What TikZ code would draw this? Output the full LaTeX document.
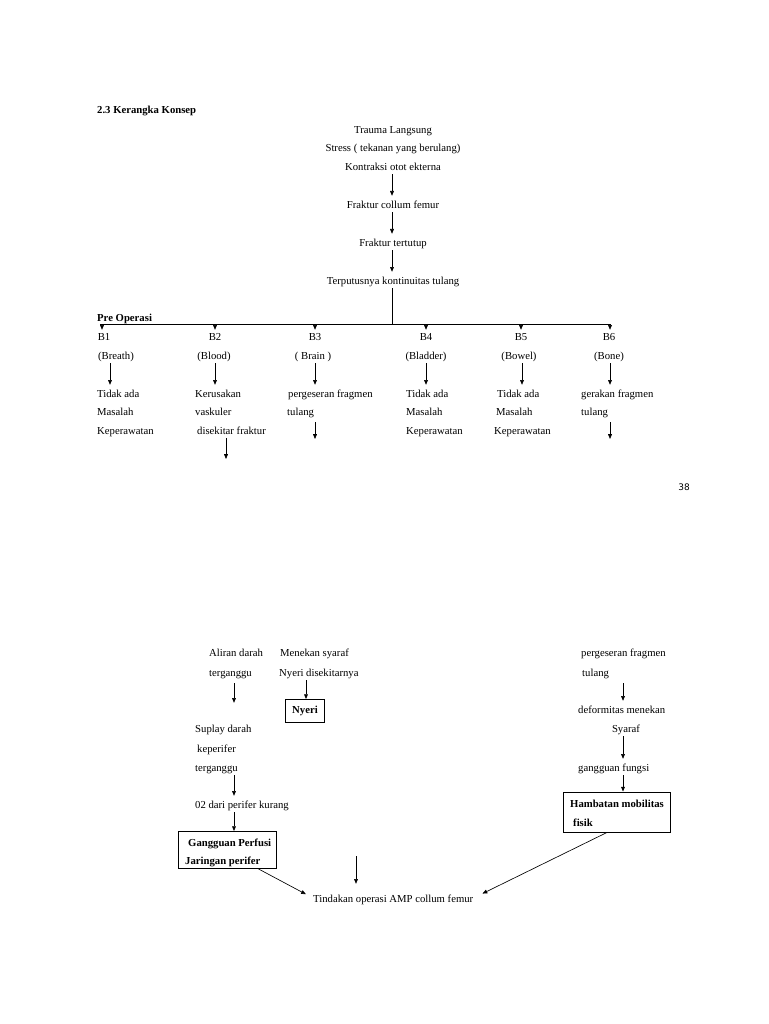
\documentclass[tikz,border=0pt]{standalone}
\usepackage{fontspec}
\setmainfont{Liberation Serif}
\newfontfamily\pagefont{DejaVu Sans}
\usetikzlibrary{arrows.meta}
\newcommand\fs{\fontsize{10.7}{12}\selectfont}
\begin{document}
\begin{tikzpicture}[x=1pt,y=-1pt,
  txt/.style={inner xsep=0pt, inner ysep=3pt, text height=9.5pt, text depth=0.5pt, font=\fs},
  lt/.style={txt, anchor=west},
  bt/.style={lt, font=\fs\bfseries},
  blab/.style={txt, inner ysep=1pt},
  arr/.style={-{Triangle[length=4.8pt,width=3.8pt]}, line width=0.65pt},
  ln/.style={line width=0.7pt},
  boxn/.style={draw, line width=0.9pt, inner sep=0pt}]
\fill[white] (0,0) rectangle (768,1024);
\useasboundingbox (0,0) rectangle (768,1024);
% title and main column
\node[bt] (title) at (97,109) {2.3 Kerangka Konsep};
\node[txt] (n1) at (393,129) {Trauma Langsung};
\node[txt] (n2) at (393,147) {Stress ( tekanan yang berulang)};
\node[txt] (n3) at (393,166) {Kontraksi otot ekterna};
\node[txt] (n4) at (393,204) {Fraktur collum femur};
\node[txt] (n5) at (393,242) {Fraktur tertutup};
\node[txt] (n6) at (393,280) {Terputusnya kontinuitas tulang};
\coordinate (cM) at (392,0);
\draw[arr] (n3.south -| cM) -- (n4.north -| cM);
\draw[arr] (n4.south -| cM) -- (n5.north -| cM);
\draw[arr] (n5.south -| cM) -- (n6.north -| cM);
\coordinate (j) at (392,324);
\draw[ln] (n6.south -| cM) -- (j);
\node[bt] (pre) at (97,317) {Pre Operasi};
\coordinate (hl) at (100,324);
\coordinate (hr) at (610,324);
\draw[ln] (hl) -- (hr);
% B labels
\node[blab] (b1) at (104,336) {B1};
\node[blab] (b2) at (215,336) {B2};
\node[blab] (b3) at (315,336) {B3};
\node[blab] (b4) at (426,336) {B4};
\node[blab] (b5) at (521,336) {B5};
\node[blab] (b6) at (609,336) {B6};
\coordinate (a1) at (102,324);
\coordinate (a2) at (215,324);
\coordinate (a3) at (315,324);
\coordinate (a4) at (426,324);
\coordinate (a5) at (521,324);
\coordinate (a6) at (610,324);
\draw[arr] (a1) -- (b1.north -| a1);
\draw[arr] (a2) -- (b2.north -| a2);
\draw[arr] (a3) -- (b3.north -| a3);
\draw[arr] (a4) -- (b4.north -| a4);
\draw[arr] (a5) -- (b5.north -| a5);
\draw[arr] (a6) -- (b6.north -| a6);
% parentheses row
\node[txt] (p1) at (116,355) {(Breath)};
\node[txt] (p2) at (214,355) {(Blood)};
\node[txt] (p3) at (313,355) {( Brain )};
\node[txt] (p4) at (426,355) {(Bladder)};
\node[txt] (p5) at (519,355) {(Bowel)};
\node[txt] (p6) at (609,355) {(Bone)};
\coordinate (k1) at (110,0);
\coordinate (k2) at (215,0);
\coordinate (k3) at (315,0);
\coordinate (k4) at (426,0);
\coordinate (k5) at (522,0);
\coordinate (k6) at (610,0);
% third row
\node[lt] (t11) at (97,393) {Tidak ada};
\node[lt] (t12) at (97,411) {Masalah};
\node[lt] (t13) at (97,430) {Keperawatan};
\node[lt] (t21) at (195,393) {Kerusakan};
\node[lt] (t22) at (195,411) {vaskuler};
\node[lt] (t23) at (197,430) {disekitar fraktur};
\node[lt] (t31) at (288,393) {pergeseran fragmen};
\node[lt] (t32) at (287,411) {tulang};
\node[lt] (t41) at (406,393) {Tidak ada};
\node[lt] (t42) at (406,411) {Masalah};
\node[lt] (t43) at (406,430) {Keperawatan};
\node[lt] (t51) at (497,393) {Tidak ada};
\node[lt] (t52) at (496,411) {Masalah};
\node[lt] (t53) at (494,430) {Keperawatan};
\node[lt] (t61) at (581,393) {gerakan fragmen};
\node[lt] (t62) at (581,411) {tulang};
\draw[arr] (p1.south -| k1) -- (t11.north -| k1);
\draw[arr] (p2.south -| k2) -- (t21.north -| k2);
\draw[arr] (p3.south -| k3) -- (t31.north -| k3);
\draw[arr] (p4.south -| k4) -- (t41.north -| k4);
\draw[arr] (p5.south -| k5) -- (t51.north -| k5);
\draw[arr] (p6.south -| k6) -- (t61.north -| k6);
\coordinate (e2) at (226,459);
\coordinate (e3) at (315,439);
\coordinate (e6) at (610,439);
\draw[arr] (t23.south -| e2) -- (e2);
\draw[arr, shorten <=3pt] (t32.south -| e3) -- (e3);
\draw[arr, shorten <=3pt] (t62.south -| e6) -- (e6);
% page number
\node[inner sep=0pt, font=\pagefont\fontsize{9}{10}\selectfont] (pg) at (684,487) {38};
% bottom left
\node[lt] (l1) at (209,652) {Aliran darah};
\node[lt] (l2) at (209,672) {terganggu};
\node[lt] (m1) at (280,652) {Menekan syaraf};
\node[lt] (m2) at (279,672) {Nyeri disekitarnya};
\node[boxn, minimum width=39pt, minimum height=23pt, font=\fs\bfseries] (ny) at (305,711) {Nyeri};
\coordinate (kA) at (234,0);
\coordinate (kN) at (306,0);
\draw[arr] (m2.south -| kN) -- (ny.north -| kN);
\node[lt] (s1) at (195,728) {Suplay darah};
\node[lt] (s2) at (197,748) {keperifer};
\node[lt] (s3) at (195,767) {terganggu};
\draw[arr, shorten <=3pt, shorten >=17pt] (l2.south -| kA) -- (s1.north -| kA);
\node[lt] (o2) at (195,804) {02 dari perifer kurang};
\draw[arr] (s3.south -| kA) -- (o2.north -| kA);
\node[boxn, minimum width=98pt, minimum height=37pt] (gb) at (227,850) {};
\node[bt] (g1) at (188,842) {Gangguan Perfusi};
\node[bt] (g2) at (185,860) {Jaringan perifer};
\draw[arr] (o2.south -| kA) -- (gb.north -| kA);
% bottom centre
\node[lt] (td) at (313,898) {Tindakan operasi AMP collum femur};
\coordinate (v1) at (356,856);
\draw[arr, shorten >=6pt] (v1) -- (td.north -| v1);
\draw[arr, shorten >=8pt] (gb.-31) -- (td.west);
% bottom right
\node[lt] (r1) at (581,652) {pergeseran fragmen};
\node[lt] (r2) at (582,672) {tulang};
\node[lt] (r3) at (578,709) {deformitas menekan};
\node[txt] (r4) at (626,728) {Syaraf};
\node[lt] (r5) at (578,767) {gangguan fungsi};
\node[boxn, minimum width=107pt, minimum height=40pt] (hb) at (616.5,812) {};
\node[bt] (h1) at (570,803) {Hambatan mobilitas};
\node[bt] (h2) at (573,822) {fisik};
\coordinate (kR) at (623,0);
\draw[arr, shorten <=3pt] (r2.south -| kR) -- (r3.north -| kR);
\draw[arr] (r4.south -| kR) -- (r5.north -| kR);
\draw[arr] (r5.south -| kR) -- (hb.north -| kR);
\draw[arr, shorten >=10pt] (hb.-115) -- (td.east);
\end{tikzpicture}
\end{document}
